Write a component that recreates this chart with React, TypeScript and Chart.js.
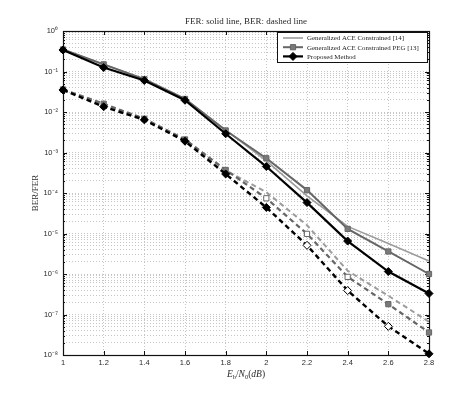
import React, { useEffect, useRef } from "react";
import { Chart, registerables } from "chart.js";

Chart.register(...registerables);

// Eb/N0 operating points (dB)
const ebn0 = [1, 1.2, 1.4, 1.6, 1.8, 2.0, 2.2, 2.4, 2.6, 2.8];

// Frame error rates
const ferAce = [0.35, 0.15, 0.064, 0.021, 0.0036, 6.2e-4, 8.5e-5, 1.5e-5, 5.7e-6, 2.1e-6];
const ferPeg = [0.35, 0.15, 0.065, 0.021, 0.0035, 7.2e-4, 1.18e-4, 1.3e-5, 3.6e-6, 1.0e-6];
const ferProposed = [0.34, 0.125, 0.06, 0.0195, 0.0029, 4.5e-4, 5.8e-5, 6.5e-6, 1.15e-6, 3.3e-7];

// Bit error rates
const berAce = [0.036, 0.015, 0.0068, 0.0021, 3.6e-4, 1.05e-4, 1.6e-5, 1.2e-6, 2.9e-7, 6.6e-8];
const berPeg = [0.036, 0.016, 0.0068, 0.0021, 3.7e-4, 7.4e-5, 9.8e-6, 8.5e-7, 1.8e-7, 3.6e-8];
const berProposed = [0.035, 0.0135, 0.0064, 0.0019, 2.95e-4, 4.4e-5, 5.1e-6, 3.9e-7, 5.1e-8, 1.07e-8];

const seriesNames = [
  "Generalized ACE Constrained [14]",
  "Generalized ACE Constrained PEG [13]",
  "Proposed Method",
];

const xTickValues = [1, 1.2, 1.4, 1.6, 1.8, 2, 2.2, 2.4, 2.6, 2.8];
const xTickLabels = ["1", "1.2", "1.4", "1.6", "1.8", "2", "2.2", "2.4", "2.6", "2.8"];

const yDecades = [1e-8, 1e-7, 1e-6, 1e-5, 1e-4, 1e-3, 1e-2, 1e-1, 1];
const yTickLabels = ["10⁻⁸", "10⁻⁷", "10⁻⁶", "10⁻⁵", "10⁻⁴", "10⁻³", "10⁻²", "10⁻¹", "10⁰"];

const titleText = "FER: solid line, BER: dashed line";
const yTitleText = "BER/FER";

// hollow markers on some of the BER points
const berPegHollow = [false, false, false, false, false, true, true, true, false, false];
const berPropHollow = [false, false, false, false, false, false, true, true, true, false];

const ACE_COLOR = "#9c9c9c";
const PEG_COLOR = "#666666";
const PEG_FILL = "#7a7a7a";
const PROP_COLOR = "#000000";
const DASH = [5, 3.5];

const SERIF = "'Liberation Serif', 'DejaVu Serif', serif";
const SANS = "'Liberation Sans', Arial, sans-serif";

// log-axis grid: every 1..9 x 10^n
const yGridValues: number[] = [];
yDecades.slice(0, -1).forEach((d) => {
  for (let m = 1; m <= 9; m++) yGridValues.push(m * d);
});
yGridValues.push(1);

function isDecade(v: number) {
  const l = Math.log10(v);
  return Math.abs(l - Math.round(l)) < 1e-9;
}

function pts(values: number[]) {
  return ebn0.map((x, i) => ({ x, y: values[i] }));
}

function drawMarker(ctx: CanvasRenderingContext2D, kind: string, x: number, y: number, fill: string, stroke: string) {
  ctx.save();
  ctx.setLineDash([]);
  ctx.lineWidth = 1;
  ctx.fillStyle = fill;
  ctx.strokeStyle = stroke;
  ctx.beginPath();
  if (kind === "rect") {
    const s = 2.6;
    ctx.rect(x - s, y - s, 2 * s, 2 * s);
  } else {
    const r = 4;
    ctx.moveTo(x, y - r);
    ctx.lineTo(x + r, y);
    ctx.lineTo(x, y + r);
    ctx.lineTo(x - r, y);
    ctx.closePath();
  }
  ctx.fill();
  ctx.stroke();
  ctx.restore();
}

const framePlugin = {
  id: "berFrame",
  beforeDraw(chart: any) {
    const { ctx, width, height } = chart;
    ctx.save();
    ctx.fillStyle = "#ffffff";
    ctx.fillRect(0, 0, width, height);
    ctx.restore();
  },
  beforeDatasetsDraw(chart: any) {
    const { ctx, chartArea: a, scales } = chart;
    const xs = scales.x;
    const ys = scales.y;
    ctx.save();
    ctx.strokeStyle = "#111111";
    ctx.lineWidth = 1;
    ctx.beginPath();
    xTickValues.forEach((v) => {
      const px = Math.round(xs.getPixelForValue(v)) + 0.5;
      ctx.moveTo(px, a.bottom);
      ctx.lineTo(px, a.bottom - 4);
      ctx.moveTo(px, a.top);
      ctx.lineTo(px, a.top + 4);
    });
    yGridValues.forEach((v) => {
      const py = Math.round(ys.getPixelForValue(v)) + 0.5;
      const len = isDecade(v) ? 4 : 2;
      ctx.moveTo(a.left, py);
      ctx.lineTo(a.left + len, py);
      ctx.moveTo(a.right, py);
      ctx.lineTo(a.right - len, py);
    });
    ctx.stroke();
    ctx.lineWidth = 1.2;
    ctx.strokeRect(Math.round(a.left) + 0.5, Math.round(a.top) + 0.5, Math.round(a.width), Math.round(a.height));
    ctx.restore();
  },
  afterDraw(chart: any) {
    const { ctx, chartArea: a } = chart;
    const cx = (a.left + a.right) / 2;
    ctx.save();
    ctx.fillStyle = "#2a2a2a";

    // title
    ctx.font = `9px ${SERIF}`;
    ctx.textAlign = "center";
    ctx.textBaseline = "middle";
    ctx.fillText(titleText, cx, 21.5);

    // y-axis title
    ctx.save();
    ctx.translate(36, (a.top + a.bottom) / 2);
    ctx.rotate(-Math.PI / 2);
    ctx.font = `9px ${SERIF}`;
    ctx.fillText(yTitleText, 0, 0);
    ctx.restore();

    // x-axis title: E_b/N_0(dB)
    const parts = [
      { t: "E", font: `italic 9.5px ${SERIF}`, dy: 0 },
      { t: "b", font: `6.5px ${SERIF}`, dy: 2 },
      { t: "/", font: `9.5px ${SERIF}`, dy: 0 },
      { t: "N", font: `italic 9.5px ${SERIF}`, dy: 0 },
      { t: "0", font: `6.5px ${SERIF}`, dy: 2 },
      { t: "(", font: `9.5px ${SERIF}`, dy: 0 },
      { t: "dB", font: `italic 9.5px ${SERIF}`, dy: 0 },
      { t: ")", font: `9.5px ${SERIF}`, dy: 0 },
    ];
    let total = 0;
    parts.forEach((p) => {
      ctx.font = p.font;
      total += ctx.measureText(p.t).width;
    });
    let xPos = cx - total / 2;
    const base = 376.5;
    ctx.textAlign = "left";
    ctx.textBaseline = "alphabetic";
    parts.forEach((p) => {
      ctx.font = p.font;
      ctx.fillText(p.t, xPos, base + p.dy);
      xPos += ctx.measureText(p.t).width;
    });

    // legend box
    const lx = 277.5;
    const ly = 32.5;
    const lw = 150;
    const lh = 30;
    ctx.fillStyle = "#ffffff";
    ctx.fillRect(lx, ly, lw, lh);
    ctx.strokeStyle = "#111111";
    ctx.lineWidth = 1;
    ctx.setLineDash([]);
    ctx.strokeRect(lx, ly, lw, lh);

    const rows = [
      { color: ACE_COLOR, width: 1.6, marker: "", fill: "" },
      { color: PEG_COLOR, width: 2, marker: "rect", fill: PEG_FILL },
      { color: PROP_COLOR, width: 2.2, marker: "diamond", fill: PROP_COLOR },
    ];
    rows.forEach((r, i) => {
      const ry = 38 + i * 9.2;
      ctx.strokeStyle = r.color;
      ctx.lineWidth = r.width;
      ctx.beginPath();
      ctx.moveTo(283, ry);
      ctx.lineTo(303, ry);
      ctx.stroke();
      if (r.marker) drawMarker(ctx, r.marker, 293, ry, r.fill, r.color);
      ctx.fillStyle = "#222222";
      ctx.font = `6.9px ${SERIF}`;
      ctx.textAlign = "left";
      ctx.textBaseline = "middle";
      ctx.fillText(seriesNames[i], 307, ry + 0.5);
    });

    ctx.restore();
  },
};

export default function App() {
  const canvasRef = useRef<HTMLCanvasElement | null>(null);

  useEffect(() => {
    const canvas = canvasRef.current;
    if (!canvas) return;

    const base = { showLine: true, clip: false as any, tension: 0, pointBorderWidth: 1 };

    const chart = new Chart(canvas, {
      type: "scatter",
      data: {
        datasets: [
          {
            ...base,
            label: seriesNames[2] + " FER",
            data: pts(ferProposed),
            borderColor: PROP_COLOR,
            borderWidth: 2.2,
            pointStyle: "rectRot",
            pointRadius: 4,
            pointBackgroundColor: PROP_COLOR,
            pointBorderColor: PROP_COLOR,
          },
          {
            ...base,
            label: seriesNames[2] + " BER",
            data: pts(berProposed),
            borderColor: PROP_COLOR,
            borderWidth: 2.4,
            borderDash: DASH,
            pointStyle: "rectRot",
            pointRadius: 4,
            pointBackgroundColor: berPropHollow.map((h) => (h ? "#ffffff" : PROP_COLOR)),
            pointBorderColor: PROP_COLOR,
          },
          {
            ...base,
            label: seriesNames[1] + " FER",
            data: pts(ferPeg),
            borderColor: PEG_COLOR,
            borderWidth: 2,
            pointStyle: "rect",
            pointRadius: 3.7,
            pointBackgroundColor: PEG_FILL,
            pointBorderColor: PEG_COLOR,
          },
          {
            ...base,
            label: seriesNames[1] + " BER",
            data: pts(berPeg),
            borderColor: PEG_COLOR,
            borderWidth: 2.2,
            borderDash: DASH,
            pointStyle: "rect",
            pointRadius: 3.7,
            pointBackgroundColor: berPegHollow.map((h) => (h ? "#ffffff" : PEG_FILL)),
            pointBorderColor: PEG_COLOR,
          },
          {
            ...base,
            label: seriesNames[0] + " FER",
            data: pts(ferAce),
            borderColor: ACE_COLOR,
            borderWidth: 1.6,
            pointRadius: 0,
          },
          {
            ...base,
            label: seriesNames[0] + " BER",
            data: pts(berAce),
            borderColor: ACE_COLOR,
            borderWidth: 2,
            borderDash: DASH,
            pointRadius: 0,
          },
        ],
      },
      options: {
        responsive: false,
        animation: false,
        devicePixelRatio: 1,
        layout: { padding: { left: 0, right: 45, top: 31, bottom: 0 } },
        plugins: {
          legend: { display: false },
          title: { display: false },
          tooltip: { enabled: false },
        },
        scales: {
          x: {
            type: "linear",
            min: 1,
            max: 2.8,
            afterBuildTicks: (scale: any) => {
              scale.ticks = xTickValues.map((v) => ({ value: v }));
            },
            afterFit: (scale: any) => {
              scale.height = 45;
            },
            ticks: {
              autoSkip: false,
              maxRotation: 0,
              padding: 3,
              color: "#2a2a2a",
              font: { family: SANS, size: 7.5 },
              callback: (v: any) => {
                const i = xTickValues.findIndex((t) => Math.abs(t - v) < 1e-9);
                return i >= 0 ? xTickLabels[i] : "";
              },
            },
            grid: { color: "#b8b8b8", lineWidth: 0.8, drawTicks: false },
            border: { display: false, dash: [1, 2] },
          },
          y: {
            type: "logarithmic",
            min: 1e-8,
            max: 1,
            afterBuildTicks: (scale: any) => {
              scale.ticks = yGridValues.map((v) => ({ value: v, major: isDecade(v) }));
            },
            afterFit: (scale: any) => {
              scale.width = 63;
            },
            ticks: {
              autoSkip: false,
              padding: 5,
              color: "#2a2a2a",
              font: { family: SANS, size: 7.5 },
              callback: (v: any) => {
                if (!isDecade(v)) return "";
                const i = Math.round(Math.log10(v)) + 8;
                return yTickLabels[i] ?? "";
              },
            },
            grid: { color: "#b8b8b8", lineWidth: 0.8, drawTicks: false },
            border: { display: false, dash: [1, 2] },
          },
        },
      },
      plugins: [framePlugin],
    });

    return () => chart.destroy();
  }, []);

  return (
    <div style={{ position: "fixed", left: 0, top: 0, width: 474, height: 400, background: "#fff" }}>
      <canvas ref={canvasRef} width={474} height={400} style={{ display: "block" }} />
    </div>
  );
}
